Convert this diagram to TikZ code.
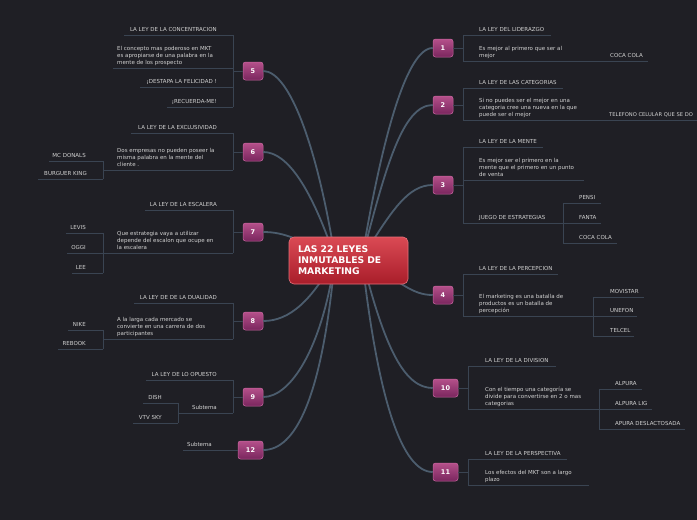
\documentclass[tikz,border=0pt]{standalone}
\usepackage{fontspec}
\setmainfont{DejaVu Sans}
\definecolor{bgc}{HTML}{1F1F25}
\definecolor{brc}{HTML}{3A4452}
\definecolor{crv}{HTML}{4C5D6E}
\definecolor{lblc}{HTML}{D2D2D2}
\definecolor{numtop}{HTML}{B4508A}
\definecolor{numbot}{HTML}{7A265E}
\definecolor{numdraw}{HTML}{C866A0}
\definecolor{ctop}{HTML}{DA4A54}
\definecolor{cbot}{HTML}{A91D2A}
\definecolor{cdraw}{HTML}{E8707A}
\tikzset{
  numbox/.style={rounded corners=2.5pt, draw=numdraw, line width=0.5pt, top color=numtop, bottom color=numbot,
    minimum width=20pt, minimum height=18pt, inner sep=0pt, text=white, font=\bfseries\fontsize{6.5}{7}\selectfont},
  numwide/.style={numbox, minimum width=25pt},
  centralbox/.style={rounded corners=5pt, draw=cdraw, line width=0.6pt, top color=ctop, bottom color=cbot,
    minimum width=119pt, minimum height=47pt, inner xsep=9pt, inner ysep=0pt, text width=101pt, align=left,
    text=white, font=\bfseries\fontsize{9.2}{11}\selectfont},
  lbl/.style={inner sep=0pt, text=lblc, font=\fontsize{5.5}{7}\selectfont, text depth=1.2pt},
  lblL/.style={lbl, anchor=south west, align=left},
  lblR/.style={lbl, anchor=south east, align=right},
  br/.style={draw=brc, line width=0.8pt},
  curve/.style={draw=crv, line width=1.8pt}
}
\begin{document}
\begin{tikzpicture}[x=1pt,y=-1pt]
\fill[bgc] (0,0) rectangle (697,520);
\useasboundingbox (0,0) rectangle (697,520);

% number nodes
\node[numbox] (n1) at (443,48) {1};
\node[numbox] (n2) at (443,105) {2};
\node[numbox] (n3) at (443,185) {3};
\node[numbox] (n4) at (443,295) {4};
\node[numwide] (n10) at (445.5,388) {10};
\node[numwide] (n11) at (445.5,472) {11};
\node[numbox] (n5) at (253,71) {5};
\node[numbox] (n6) at (253,152) {6};
\node[numbox] (n7) at (253,232) {7};
\node[numbox] (n8) at (253,321) {8};
\node[numbox] (n9) at (253,397) {9};
\node[numwide] (n12) at (250.5,450) {12};

% curves from centre (behind central node)
\coordinate (cr) at (362,258);
\coordinate (cl) at (335,258);
\path[curve] (cr) .. controls (380,150) and (405,48) .. (n1.west);
\path[curve] (cr) .. controls (385,170) and (402,105) .. (n2.west);
\path[curve] (cr) .. controls (392,210) and (408,185) .. (n3.west);
\path[curve] (cr) .. controls (400,282) and (412,295) .. (n4.west);
\path[curve] (cr) .. controls (385,350) and (405,388) .. (n10.west);
\path[curve] (cr) .. controls (378,400) and (402,472) .. (n11.west);
\path[curve] (cl) .. controls (318,150) and (290,71) .. (n5.east);
\path[curve] (cl) .. controls (312,190) and (288,152) .. (n6.east);
\path[curve] (cl) .. controls (300,240) and (285,232) .. (n7.east);
\path[curve] (cl) .. controls (312,300) and (290,321) .. (n8.east);
\path[curve] (cl) .. controls (322,350) and (290,397) .. (n9.east);
\path[curve] (cl) .. controls (322,400) and (295,450) .. (n12.east);

\node[centralbox] (c) at (348.5,260.5) {LAS 22 LEYES\\INMUTABLES DE\\MARKETING};

% ---------- 1 ----------
\draw[br] (n1.east) -- (463,48);
\draw[br] (463,35) -- (463,61);
\draw[br] (463,35) -- (551,35);
\draw[br] (463,61) -- (648,61);
\node[lblL] (t1a) at (479,33.2) {LA LEY DEL LIDERAZGO};
\node[lblL] (t1b) at (479,59.2) {Es mejor al primero que ser al\\mejor};
\node[lblL] (t1c) at (610,59.2) {COCA COLA};
% ---------- 2 ----------
\draw[br] (n2.east) -- (463,105);
\draw[br] (463,88) -- (463,120);
\draw[br] (463,88) -- (563,88);
\draw[br] (463,120) -- (697,120);
\node[lblL] (t2a) at (479,86.2) {LA LEY DE LAS CATEGORIAS};
\node[lblL] (t2b) at (479,118.2) {Si no puedes ser el mejor en una\\categoria cree una nueva en la que\\puede ser el mejor};
\node[lblL, font=\fontsize{5.2}{7}\selectfont] (t2c) at (609,118.2) {TELEFONO CELULAR QUE SE DO};
% ---------- 3 ----------
\draw[br] (n3.east) -- (463,185);
\draw[br] (463,147) -- (463,223);
\draw[br] (463,147) -- (543,147);
\draw[br] (463,180) -- (584,180);
\draw[br] (463,223) -- (563,223);
\draw[br] (563,203) -- (563,243);
\draw[br] (563,203) -- (601,203);
\draw[br] (563,243) -- (617,243);
\draw[br] (563,223) -- (601,223);
\node[lblL] (t3a) at (479,145.2) {LA LEY DE LA MENTE};
\node[lblL] (t3b) at (479,178.2) {Es mejor ser el primero en la\\mente que el primero en un punto\\de venta};
\node[lblL] (t3c) at (479,221.2) {JUEGO DE ESTRATEGIAS};
\node[lblL] (t3d) at (579,201.2) {PENSI};
\node[lblL] (t3e) at (579,221.2) {FANTA};
\node[lblL] (t3f) at (579,241.2) {COCA COLA};
% ---------- 4 ----------
\draw[br] (n4.east) -- (463,295);
\draw[br] (463,274) -- (463,316);
\draw[br] (463,274) -- (558,274);
\draw[br] (463,316) -- (593,316);
\draw[br] (593,297) -- (593,336);
\draw[br] (593,297) -- (644,297);
\draw[br] (593,316) -- (637,316);
\draw[br] (593,336) -- (634,336);
\node[lblL] (t4a) at (479,272.2) {LA LEY DE LA PERCEPCION};
\node[lblL] (t4b) at (479,314.2) {El marketing es una batalla de\\productos es un batalla de\\percepción};
\node[lblL] (t4c) at (610,295.2) {MOVISTAR};
\node[lblL] (t4d) at (610,314.2) {UNEFON};
\node[lblL] (t4e) at (610,334.2) {TELCEL};
% ---------- 10 ----------
\draw[br] (n10.east) -- (468,388);
\draw[br] (468,366) -- (468,409);
\draw[br] (468,366) -- (556,366);
\draw[br] (468,409) -- (599,409);
\draw[br] (599,389) -- (599,429);
\draw[br] (599,389) -- (642,389);
\draw[br] (599,409) -- (652,409);
\draw[br] (599,429) -- (685,429);
\node[lblL] (t10a) at (485,364.2) {LA LEY DE LA DIVISION};
\node[lblL] (t10b) at (485,407.2) {Con el tiempo una categoría se\\divide para convertirse en 2 o mas\\categorias};
\node[lblL] (t10c) at (615,387.2) {ALPURA};
\node[lblL] (t10d) at (615,407.2) {ALPURA LIG};
\node[lblL] (t10e) at (615,427.2) {APURA DESLACTOSADA};
% ---------- 11 ----------
\draw[br] (n11.east) -- (468,472);
\draw[br] (468,459) -- (468,485);
\draw[br] (468,459) -- (567,459);
\draw[br] (468,485) -- (589,485);
\node[lblL] (t11a) at (485,457.2) {LA LEY DE LA PERSPECTIVA};
\node[lblL] (t11b) at (485,483.2) {Los efectos del MKT son a largo\\plazo};
% ---------- 5 ----------
\draw[br] (n5.west) -- (233,71);
\draw[br] (233,35) -- (233,107);
\draw[br] (124,35) -- (233,35);
\draw[br] (113,68) -- (233,68);
\draw[br] (140,87) -- (233,87);
\draw[br] (167,107) -- (233,107);
\node[lblR] (t5a) at (217,33.2) {LA LEY DE LA CONCENTRACION};
\node[lblL] (t5b) at (117,66.2) {El concepto mas poderoso en MKT\\es apropiarse de una palabra en la\\mente de los prospecto};
\node[lblR] (t5c) at (217,85.2) {¡DESTAPA LA FELICIDAD !};
\node[lblR] (t5d) at (217,105.2) {¡RECUERDA-ME!};
% ---------- 6 ----------
\draw[br] (n6.west) -- (233,152);
\draw[br] (233,133) -- (233,170);
\draw[br] (131,133) -- (233,133);
\draw[br] (103,170) -- (233,170);
\draw[br] (103,161) -- (103,179);
\draw[br] (49,161) -- (103,161);
\draw[br] (38,179) -- (103,179);
\node[lblR] (t6a) at (217,131.2) {LA LEY DE LA EXCLUSIVIDAD};
\node[lblL] (t6b) at (117,168.2) {Dos empresas no pueden poseer la\\misma palabra en la mente del\\cliente .};
\node[lblR] (t6c) at (86,159.2) {MC DONALS};
\node[lblR] (t6d) at (87,177.2) {BURGUER KING};
% ---------- 7 ----------
\draw[br] (n7.west) -- (233,232);
\draw[br] (233,210) -- (233,253);
\draw[br] (145,210) -- (233,210);
\draw[br] (103,253) -- (233,253);
\draw[br] (103,233) -- (103,273);
\draw[br] (66,233) -- (103,233);
\draw[br] (67,253) -- (103,253);
\draw[br] (72,273) -- (103,273);
\node[lblR] (t7a) at (217,208.2) {LA LEY DE LA ESCALERA};
\node[lblL] (t7b) at (117,251.2) {Que estrategia vaya a utilizar\\depende del escalon que ocupe en\\la escalera};
\node[lblR] (t7c) at (86,231.2) {LEVIS};
\node[lblR] (t7d) at (86,251.2) {OGGI};
\node[lblR] (t7e) at (86,271.2) {LEE};
% ---------- 8 ----------
\draw[br] (n8.west) -- (233,321);
\draw[br] (233,303) -- (233,339);
\draw[br] (134,303) -- (233,303);
\draw[br] (103,339) -- (233,339);
\draw[br] (103,330) -- (103,349);
\draw[br] (68,330) -- (103,330);
\draw[br] (58,349) -- (103,349);
\node[lblR] (t8a) at (217,301.2) {LA LEY DE DE LA DUALIDAD};
\node[lblL] (t8b) at (117,337.2) {A la larga cada mercado se\\convierte en una carrera de dos\\participantes};
\node[lblR] (t8c) at (86,328.2) {NIKE};
\node[lblR] (t8d) at (86,347.2) {REBOOK};
% ---------- 9 ----------
\draw[br] (n9.west) -- (233,397);
\draw[br] (233,380) -- (233,413);
\draw[br] (146,380) -- (233,380);
\draw[br] (178,413) -- (233,413);
\draw[br] (178,403) -- (178,423);
\draw[br] (143,403) -- (178,403);
\draw[br] (133,423) -- (178,423);
\node[lblR] (t9a) at (217,378.2) {LA LEY DE LO OPUESTO};
\node[lblR] (t9b) at (217,411.2) {Subtema};
\node[lblR] (t9c) at (162,401.2) {DISH};
\node[lblR] (t9d) at (162,421.2) {VTV SKY};
% ---------- 12 ----------
\draw[br] (183,450) -- (n12.west);
\node[lblR] (t12a) at (212,448.2) {Subtema};
\end{tikzpicture}
\end{document}
